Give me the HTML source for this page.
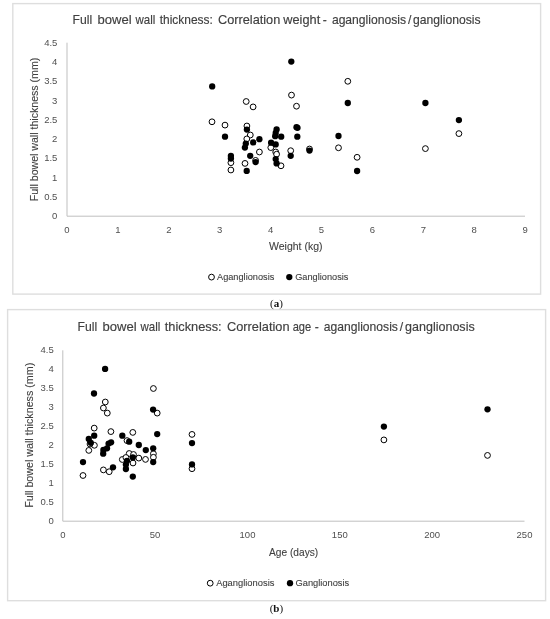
<!DOCTYPE html>
<html><head><meta charset="utf-8"><title>Full bowel wall thickness</title>
<style>html,body{margin:0;padding:0;background:#fff}svg{display:block}text{font-family:"Liberation Sans","DejaVu Sans",sans-serif}.t{stroke:#404040;stroke-width:0.15px}.l{stroke:#404040;stroke-width:0.1px}</style>
</head><body>
<svg width="550" height="619" viewBox="0 0 550 619">
<rect width="550" height="619" fill="#fff"/>
<rect x="12.8" y="3.6" width="527.8000000000001" height="290.5" fill="#fff" stroke="#dedede" stroke-width="1.4"/>
<path d="M67 42.7V216.2H525" fill="none" stroke="#bfbfbf" stroke-width="1"/>
<text class="t" y="24" font-size="12.2" fill="#404040"><tspan x="72.6" textLength="19.6" lengthAdjust="spacingAndGlyphs">Full</tspan> <tspan x="97.6" textLength="34.1" lengthAdjust="spacingAndGlyphs">bowel</tspan> <tspan x="135.5" textLength="19.8" lengthAdjust="spacingAndGlyphs">wall</tspan> <tspan x="159.7" textLength="53.1" lengthAdjust="spacingAndGlyphs">thickness:</tspan> <tspan x="218.0" textLength="62.3" lengthAdjust="spacingAndGlyphs">Correlation</tspan> <tspan x="283.3" textLength="36.9" lengthAdjust="spacingAndGlyphs">weight</tspan> <tspan x="326.5" text-anchor="middle">-</tspan> <tspan x="331.9" textLength="74.1" lengthAdjust="spacingAndGlyphs">aganglionosis</tspan><tspan x="409.6" text-anchor="middle">/</tspan><tspan x="413.1" textLength="67.5" lengthAdjust="spacingAndGlyphs">ganglionosis</tspan></text>
<text x="57.4" y="219" font-size="9.5" text-anchor="end" fill="#4f4f4f">0</text>
<text x="57.4" y="200" font-size="9.5" text-anchor="end" fill="#4f4f4f">0.5</text>
<text x="57.4" y="181" font-size="9.5" text-anchor="end" fill="#4f4f4f">1</text>
<text x="57.4" y="161" font-size="9.5" text-anchor="end" fill="#4f4f4f">1.5</text>
<text x="57.4" y="142" font-size="9.5" text-anchor="end" fill="#4f4f4f">2</text>
<text x="57.4" y="123" font-size="9.5" text-anchor="end" fill="#4f4f4f">2.5</text>
<text x="57.4" y="104" font-size="9.5" text-anchor="end" fill="#4f4f4f">3</text>
<text x="57.4" y="84" font-size="9.5" text-anchor="end" fill="#4f4f4f">3.5</text>
<text x="57.4" y="65" font-size="9.5" text-anchor="end" fill="#4f4f4f">4</text>
<text x="57.4" y="46" font-size="9.5" text-anchor="end" fill="#4f4f4f">4.5</text>
<text x="67.0" y="233" font-size="9.5" text-anchor="middle" fill="#4f4f4f">0</text>
<text x="117.9" y="233" font-size="9.5" text-anchor="middle" fill="#4f4f4f">1</text>
<text x="168.8" y="233" font-size="9.5" text-anchor="middle" fill="#4f4f4f">2</text>
<text x="219.7" y="233" font-size="9.5" text-anchor="middle" fill="#4f4f4f">3</text>
<text x="270.6" y="233" font-size="9.5" text-anchor="middle" fill="#4f4f4f">4</text>
<text x="321.5" y="233" font-size="9.5" text-anchor="middle" fill="#4f4f4f">5</text>
<text x="372.4" y="233" font-size="9.5" text-anchor="middle" fill="#4f4f4f">6</text>
<text x="423.3" y="233" font-size="9.5" text-anchor="middle" fill="#4f4f4f">7</text>
<text x="474.2" y="233" font-size="9.5" text-anchor="middle" fill="#4f4f4f">8</text>
<text x="525.1" y="233" font-size="9.5" text-anchor="middle" fill="#4f4f4f">9</text>
<text x="269" y="249.5" font-size="10.4" text-anchor="start" fill="#404040" textLength="53.5" lengthAdjust="spacingAndGlyphs" class="l">Weight (kg)</text>
<text transform="translate(37.5 201.25)  rotate(-90)" class="l" font-size="10.4" fill="#404040" textLength="143.5" lengthAdjust="spacingAndGlyphs">Full bowel wall thickness (mm)</text>
<circle cx="212.0" cy="121.8" r="2.9" fill="#fff" stroke="#000" stroke-width="1"/>
<circle cx="225.0" cy="125.1" r="2.9" fill="#fff" stroke="#000" stroke-width="1"/>
<circle cx="246.9" cy="126.0" r="2.9" fill="#fff" stroke="#000" stroke-width="1"/>
<circle cx="246.2" cy="101.5" r="2.9" fill="#fff" stroke="#000" stroke-width="1"/>
<circle cx="253.1" cy="106.9" r="2.9" fill="#fff" stroke="#000" stroke-width="1"/>
<circle cx="291.5" cy="95.1" r="2.9" fill="#fff" stroke="#000" stroke-width="1"/>
<circle cx="296.5" cy="106.2" r="2.9" fill="#fff" stroke="#000" stroke-width="1"/>
<circle cx="250.3" cy="135.0" r="2.9" fill="#fff" stroke="#000" stroke-width="1"/>
<circle cx="246.8" cy="138.9" r="2.9" fill="#fff" stroke="#000" stroke-width="1"/>
<circle cx="259.4" cy="152.0" r="2.9" fill="#fff" stroke="#000" stroke-width="1"/>
<circle cx="230.9" cy="162.7" r="2.9" fill="#fff" stroke="#000" stroke-width="1"/>
<circle cx="230.9" cy="170.0" r="2.9" fill="#fff" stroke="#000" stroke-width="1"/>
<circle cx="245.0" cy="163.4" r="2.9" fill="#fff" stroke="#000" stroke-width="1"/>
<circle cx="255.6" cy="160.4" r="2.9" fill="#fff" stroke="#000" stroke-width="1"/>
<circle cx="270.8" cy="147.6" r="2.9" fill="#fff" stroke="#000" stroke-width="1"/>
<circle cx="275.7" cy="152.0" r="2.9" fill="#fff" stroke="#000" stroke-width="1"/>
<circle cx="276.6" cy="154.2" r="2.9" fill="#fff" stroke="#000" stroke-width="1"/>
<circle cx="281.0" cy="165.8" r="2.9" fill="#fff" stroke="#000" stroke-width="1"/>
<circle cx="290.7" cy="150.7" r="2.9" fill="#fff" stroke="#000" stroke-width="1"/>
<circle cx="309.5" cy="149.0" r="2.9" fill="#fff" stroke="#000" stroke-width="1"/>
<circle cx="347.8" cy="81.3" r="2.9" fill="#fff" stroke="#000" stroke-width="1"/>
<circle cx="338.5" cy="147.8" r="2.9" fill="#fff" stroke="#000" stroke-width="1"/>
<circle cx="357.1" cy="157.3" r="2.9" fill="#fff" stroke="#000" stroke-width="1"/>
<circle cx="425.4" cy="148.6" r="2.9" fill="#fff" stroke="#000" stroke-width="1"/>
<circle cx="458.9" cy="133.6" r="2.9" fill="#fff" stroke="#000" stroke-width="1"/>
<circle cx="212.2" cy="86.4" r="3.15" fill="#000"/>
<circle cx="291.3" cy="61.6" r="3.15" fill="#000"/>
<circle cx="246.9" cy="129.6" r="3.15" fill="#000"/>
<circle cx="225.0" cy="136.7" r="3.15" fill="#000"/>
<circle cx="253.2" cy="142.4" r="3.15" fill="#000"/>
<circle cx="259.4" cy="139.2" r="3.15" fill="#000"/>
<circle cx="245.8" cy="143.6" r="3.15" fill="#000"/>
<circle cx="244.9" cy="147.6" r="3.15" fill="#000"/>
<circle cx="250.2" cy="155.8" r="3.15" fill="#000"/>
<circle cx="230.9" cy="155.8" r="3.15" fill="#000"/>
<circle cx="230.9" cy="158.5" r="3.15" fill="#000"/>
<circle cx="246.7" cy="170.9" r="3.15" fill="#000"/>
<circle cx="255.6" cy="162.1" r="3.15" fill="#000"/>
<circle cx="276.6" cy="129.4" r="3.15" fill="#000"/>
<circle cx="275.7" cy="132.9" r="3.15" fill="#000"/>
<circle cx="275.2" cy="136.2" r="3.15" fill="#000"/>
<circle cx="281.2" cy="136.7" r="3.15" fill="#000"/>
<circle cx="271.1" cy="142.7" r="3.15" fill="#000"/>
<circle cx="275.7" cy="144.4" r="3.15" fill="#000"/>
<circle cx="275.7" cy="159.1" r="3.15" fill="#000"/>
<circle cx="276.6" cy="163.4" r="3.15" fill="#000"/>
<circle cx="296.5" cy="127.2" r="3.15" fill="#000"/>
<circle cx="297.5" cy="127.8" r="3.15" fill="#000"/>
<circle cx="297.3" cy="136.7" r="3.15" fill="#000"/>
<circle cx="290.7" cy="155.8" r="3.15" fill="#000"/>
<circle cx="309.5" cy="150.6" r="3.15" fill="#000"/>
<circle cx="347.8" cy="103.0" r="3.15" fill="#000"/>
<circle cx="338.5" cy="136.0" r="3.15" fill="#000"/>
<circle cx="357.1" cy="171.0" r="3.15" fill="#000"/>
<circle cx="425.4" cy="103.0" r="3.15" fill="#000"/>
<circle cx="458.9" cy="120.1" r="3.15" fill="#000"/>
<circle cx="211.5" cy="277.1" r="2.9" fill="#fff" stroke="#000" stroke-width="1"/>
<circle cx="289.3" cy="277.1" r="3.15" fill="#000"/>
<text x="217.0" y="279.90000000000003" font-size="9.5" text-anchor="start" fill="#404040" textLength="57.3" lengthAdjust="spacingAndGlyphs" class="l">Aganglionosis</text>
<text x="295.2" y="279.90000000000003" font-size="9.5" text-anchor="start" fill="#404040" textLength="53.2" lengthAdjust="spacingAndGlyphs" class="l">Ganglionosis</text>
<rect x="7.6" y="309.6" width="538.0" height="291.1" fill="#fff" stroke="#dedede" stroke-width="1.4"/>
<path d="M62.8 350.3V521.2H524.5" fill="none" stroke="#bfbfbf" stroke-width="1"/>
<text class="t" y="331" font-size="12.2" fill="#404040"><tspan x="77.6" textLength="19.6" lengthAdjust="spacingAndGlyphs">Full</tspan> <tspan x="102.6" textLength="34.1" lengthAdjust="spacingAndGlyphs">bowel</tspan> <tspan x="140.5" textLength="19.8" lengthAdjust="spacingAndGlyphs">wall</tspan> <tspan x="164.7" textLength="57.0" lengthAdjust="spacingAndGlyphs">thickness:</tspan> <tspan x="227.0" textLength="62.5" lengthAdjust="spacingAndGlyphs">Correlation</tspan> <tspan x="292.7" textLength="18.5" lengthAdjust="spacingAndGlyphs">age</tspan> <tspan x="318.5" text-anchor="middle">-</tspan> <tspan x="323.8" textLength="74.1" lengthAdjust="spacingAndGlyphs">aganglionosis</tspan><tspan x="401.4" text-anchor="middle">/</tspan><tspan x="405.0" textLength="69.7" lengthAdjust="spacingAndGlyphs">ganglionosis</tspan></text>
<text x="53.7" y="524" font-size="9.5" text-anchor="end" fill="#4f4f4f">0</text>
<text x="53.7" y="505" font-size="9.5" text-anchor="end" fill="#4f4f4f">0.5</text>
<text x="53.7" y="486" font-size="9.5" text-anchor="end" fill="#4f4f4f">1</text>
<text x="53.7" y="467" font-size="9.5" text-anchor="end" fill="#4f4f4f">1.5</text>
<text x="53.7" y="448" font-size="9.5" text-anchor="end" fill="#4f4f4f">2</text>
<text x="53.7" y="429" font-size="9.5" text-anchor="end" fill="#4f4f4f">2.5</text>
<text x="53.7" y="410" font-size="9.5" text-anchor="end" fill="#4f4f4f">3</text>
<text x="53.7" y="391" font-size="9.5" text-anchor="end" fill="#4f4f4f">3.5</text>
<text x="53.7" y="372" font-size="9.5" text-anchor="end" fill="#4f4f4f">4</text>
<text x="53.7" y="353" font-size="9.5" text-anchor="end" fill="#4f4f4f">4.5</text>
<text x="62.8" y="538" font-size="9.5" text-anchor="middle" fill="#4f4f4f">0</text>
<text x="155.1" y="538" font-size="9.5" text-anchor="middle" fill="#4f4f4f">50</text>
<text x="247.5" y="538" font-size="9.5" text-anchor="middle" fill="#4f4f4f">100</text>
<text x="339.8" y="538" font-size="9.5" text-anchor="middle" fill="#4f4f4f">150</text>
<text x="432.2" y="538" font-size="9.5" text-anchor="middle" fill="#4f4f4f">200</text>
<text x="524.5" y="538" font-size="9.5" text-anchor="middle" fill="#4f4f4f">250</text>
<text x="269.1" y="555.5" font-size="10.4" text-anchor="start" fill="#404040" textLength="49.1" lengthAdjust="spacingAndGlyphs" class="l">Age (days)</text>
<text transform="translate(33 507.8)  rotate(-90)" class="l" font-size="10.4" fill="#404040" textLength="145" lengthAdjust="spacingAndGlyphs">Full bowel wall thickness (mm)</text>
<circle cx="105.3" cy="402" r="2.9" fill="#fff" stroke="#000" stroke-width="1"/>
<circle cx="103.4" cy="408" r="2.9" fill="#fff" stroke="#000" stroke-width="1"/>
<circle cx="107.3" cy="413.1" r="2.9" fill="#fff" stroke="#000" stroke-width="1"/>
<circle cx="94.2" cy="428.1" r="2.9" fill="#fff" stroke="#000" stroke-width="1"/>
<circle cx="110.9" cy="431.6" r="2.9" fill="#fff" stroke="#000" stroke-width="1"/>
<circle cx="94.4" cy="445.3" r="2.9" fill="#fff" stroke="#000" stroke-width="1"/>
<circle cx="88.8" cy="450.4" r="2.9" fill="#fff" stroke="#000" stroke-width="1"/>
<circle cx="83.0" cy="475.5" r="2.9" fill="#fff" stroke="#000" stroke-width="1"/>
<circle cx="103.4" cy="469.9" r="2.9" fill="#fff" stroke="#000" stroke-width="1"/>
<circle cx="109.2" cy="471.7" r="2.9" fill="#fff" stroke="#000" stroke-width="1"/>
<circle cx="122.3" cy="459.5" r="2.9" fill="#fff" stroke="#000" stroke-width="1"/>
<circle cx="132.8" cy="432.4" r="2.9" fill="#fff" stroke="#000" stroke-width="1"/>
<circle cx="127" cy="440.6" r="2.9" fill="#fff" stroke="#000" stroke-width="1"/>
<circle cx="153.4" cy="453.7" r="2.9" fill="#fff" stroke="#000" stroke-width="1"/>
<circle cx="153.4" cy="457.3" r="2.9" fill="#fff" stroke="#000" stroke-width="1"/>
<circle cx="145.5" cy="459.4" r="2.9" fill="#fff" stroke="#000" stroke-width="1"/>
<circle cx="138.8" cy="458.1" r="2.9" fill="#fff" stroke="#000" stroke-width="1"/>
<circle cx="129.2" cy="453.5" r="2.9" fill="#fff" stroke="#000" stroke-width="1"/>
<circle cx="133.5" cy="454.5" r="2.9" fill="#fff" stroke="#000" stroke-width="1"/>
<circle cx="125.9" cy="457.5" r="2.9" fill="#fff" stroke="#000" stroke-width="1"/>
<circle cx="133" cy="463" r="2.9" fill="#fff" stroke="#000" stroke-width="1"/>
<circle cx="153.4" cy="388.5" r="2.9" fill="#fff" stroke="#000" stroke-width="1"/>
<circle cx="157.2" cy="413.1" r="2.9" fill="#fff" stroke="#000" stroke-width="1"/>
<circle cx="192" cy="434.4" r="2.9" fill="#fff" stroke="#000" stroke-width="1"/>
<circle cx="192" cy="468.7" r="2.9" fill="#fff" stroke="#000" stroke-width="1"/>
<circle cx="383.9" cy="439.9" r="2.9" fill="#fff" stroke="#000" stroke-width="1"/>
<circle cx="487.5" cy="455.4" r="2.9" fill="#fff" stroke="#000" stroke-width="1"/>
<circle cx="90.0" cy="444.0" r="2.9" fill="#fff" stroke="#000" stroke-width="1"/>
<circle cx="105.1" cy="368.9" r="3.15" fill="#000"/>
<circle cx="94.0" cy="393.5" r="3.15" fill="#000"/>
<circle cx="94.2" cy="435.7" r="3.15" fill="#000"/>
<circle cx="88.8" cy="439.0" r="3.15" fill="#000"/>
<circle cx="90.8" cy="442.8" r="3.15" fill="#000"/>
<circle cx="122.3" cy="435.7" r="3.15" fill="#000"/>
<circle cx="111.1" cy="442.3" r="3.15" fill="#000"/>
<circle cx="108.6" cy="443.6" r="3.15" fill="#000"/>
<circle cx="107" cy="448.3" r="3.15" fill="#000"/>
<circle cx="103.4" cy="449.9" r="3.15" fill="#000"/>
<circle cx="103.2" cy="453.7" r="3.15" fill="#000"/>
<circle cx="83.0" cy="462.1" r="3.15" fill="#000"/>
<circle cx="113" cy="467.3" r="3.15" fill="#000"/>
<circle cx="129.2" cy="441.7" r="3.15" fill="#000"/>
<circle cx="138.8" cy="445" r="3.15" fill="#000"/>
<circle cx="145.8" cy="450.1" r="3.15" fill="#000"/>
<circle cx="157.2" cy="434.1" r="3.15" fill="#000"/>
<circle cx="153.2" cy="448.3" r="3.15" fill="#000"/>
<circle cx="153.2" cy="462.1" r="3.15" fill="#000"/>
<circle cx="132.8" cy="457.5" r="3.15" fill="#000"/>
<circle cx="127" cy="460.8" r="3.15" fill="#000"/>
<circle cx="125.9" cy="464.6" r="3.15" fill="#000"/>
<circle cx="125.9" cy="469" r="3.15" fill="#000"/>
<circle cx="132.8" cy="476.6" r="3.15" fill="#000"/>
<circle cx="153.1" cy="409.6" r="3.15" fill="#000"/>
<circle cx="192" cy="443.1" r="3.15" fill="#000"/>
<circle cx="192" cy="464.4" r="3.15" fill="#000"/>
<circle cx="383.9" cy="426.6" r="3.15" fill="#000"/>
<circle cx="487.5" cy="409.3" r="3.15" fill="#000"/>
<circle cx="210.2" cy="583.2" r="2.9" fill="#fff" stroke="#000" stroke-width="1"/>
<circle cx="290.0" cy="583.2" r="3.15" fill="#000"/>
<text x="216.2" y="586.0" font-size="9.5" text-anchor="start" fill="#404040" textLength="58.2" lengthAdjust="spacingAndGlyphs" class="l">Aganglionosis</text>
<text x="295.5" y="586.0" font-size="9.5" text-anchor="start" fill="#404040" textLength="53.7" lengthAdjust="spacingAndGlyphs" class="l">Ganglionosis</text>
<text x="276.4" y="306.6" font-size="11" text-anchor="middle" fill="#111" style="stroke:none;font-family:'Liberation Serif','DejaVu Serif',serif">(<tspan font-weight="bold">a</tspan>)</text>
<text x="276.4" y="612.3" font-size="11" text-anchor="middle" fill="#111" style="stroke:none;font-family:'Liberation Serif','DejaVu Serif',serif">(<tspan font-weight="bold">b</tspan>)</text>
</svg>
</body></html>
